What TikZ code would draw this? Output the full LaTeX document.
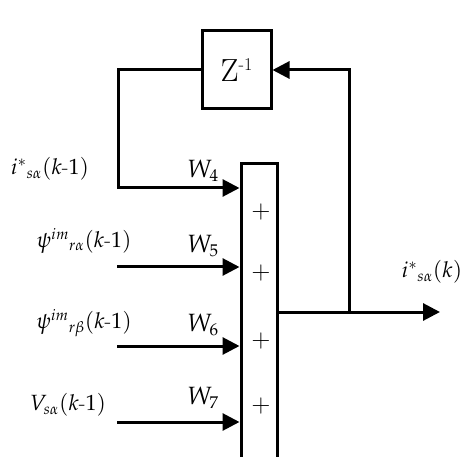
\documentclass[tikz,border=0pt]{standalone}
\usepackage{amsmath}
\usepackage{mathpazo}
\usetikzlibrary{arrows.meta}
\DeclareMathSizes{22}{22}{15.5}{11}
\DeclareMathSizes{25}{25}{17}{12}
\tikzset{
  wire/.style={line width=3pt},
  arr/.style={wire,-{Triangle[length=17pt,width=17pt]}},
  lbl/.style={inner sep=0pt,font=\fontsize{22}{24}\selectfont},
  wlbl/.style={inner sep=0pt,font=\fontsize{25}{27}\selectfont},
  plus/.style={inner sep=0pt,font=\fontsize{26}{28}\selectfont},
  blk/.style={draw,line width=3pt,inner sep=0pt}
}
\begin{document}
\begin{tikzpicture}[x=1pt,y=-1pt]
\useasboundingbox (0,0) rectangle (474,457);
% delay block
\node[blk,minimum width=69pt,minimum height=78pt] (z) at (236.5,70)
  {\fontsize{32}{34}\selectfont Z\raisebox{0.33em}{\fontsize{18}{19}\selectfont -1}};
% summing bar
\node[blk,minimum width=36pt,minimum height=330pt,anchor=north] (s) at (259,162.5) {};
% coordinates
\coordinate (c4) at (118,188);
\coordinate (c5) at (117,267);
\coordinate (c6) at (117,346);
\coordinate (c7) at (117,422);
\coordinate (out) at (440,312);
\coordinate (fb) at (349,312);
% connectors
\draw[arr] (z.west) -| (c4) -- (c4 -| s.west);
\draw[arr] (c5) -- (c5 -| s.west);
\draw[arr] (c6) -- (c6 -| s.west);
\draw[arr] (c7) -- (c7 -| s.west);
\draw[arr] (s.east |- out) -- (out);
\draw[arr] (fb) |- (z.east);
% plus signs
\node[plus] (p4) at (261,212) {+};
\node[plus] (p5) at (261,273) {+};
\node[plus] (p6) at (261,341) {+};
\node[plus] (p7) at (261,406) {+};
% weights
\node[wlbl] (w4) at (203,171) {$W_4$};
\node[wlbl] (w5) at (203,246) {$W_5$};
\node[wlbl] (w6) at (203,325) {$W_6$};
\node[wlbl] (w7) at (203,398) {$W_7$};
% input labels
\node[lbl] (l4) at (50,169) {$i^{*}{}_{s\alpha}(k\text{-}1)$};
\node[lbl] (l5) at (84,241) {$\psi^{im}{}_{r\alpha}(k\text{-}1)$};
\node[lbl] (l6) at (84,323) {$\psi^{im}{}_{r\beta}(k\text{-}1)$};
\node[lbl] (l7) at (68,405) {$V_{s\alpha}(k\text{-}1)$};
\node[lbl] (lo) at (432,272) {$i^{*}{}_{s\alpha}(k)$};
\end{tikzpicture}
\end{document}
